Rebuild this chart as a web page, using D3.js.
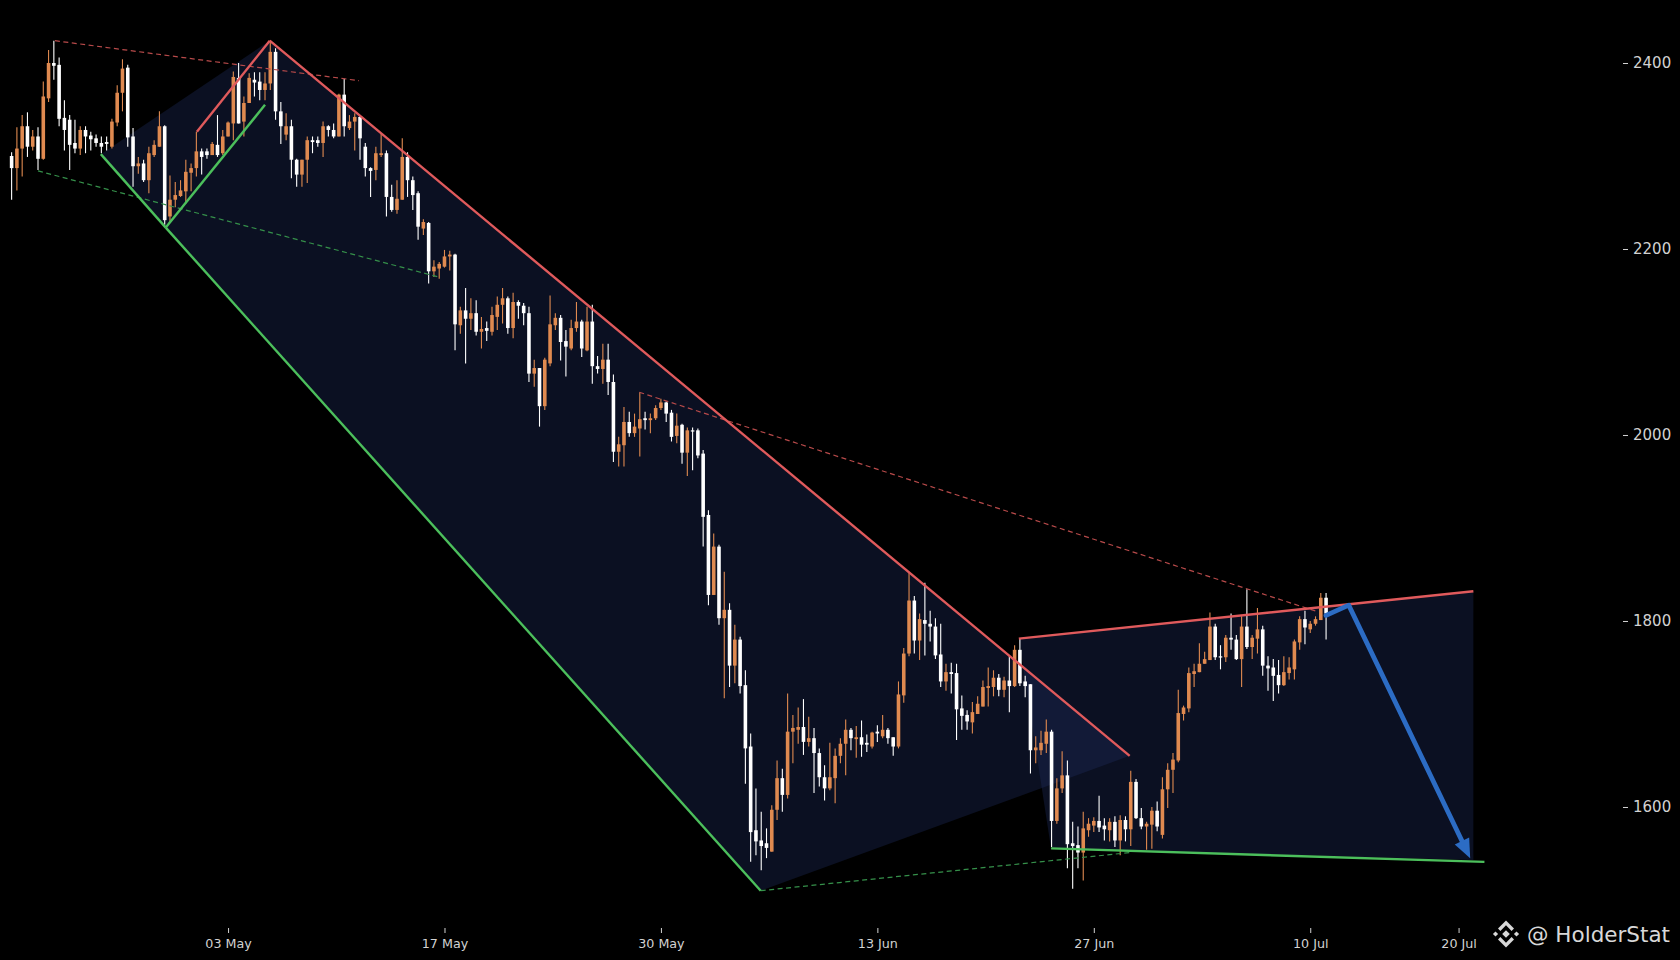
<!DOCTYPE html>
<html>
<head>
<meta charset="utf-8">
<script src="https://cdn.jsdelivr.net/npm/d3@7"></script>
<style>
  html, body { margin: 0; padding: 0; background: #000; }
  svg { display: block; }
  .tick text { font-family: "DejaVu Sans", sans-serif; fill: #d2d2d2; }
  .tick line { stroke: #d2d2d2; }
</style>
</head>
<body>
<svg id="chart" width="1680" height="960"></svg>
<script>
// candle data, one entry per bar
const opens = [2300,2287,2308,2332,2310,2321,2297,2362,2400,2398,2341,2339,2314,2308,2328,2322,2319,2314,2315,2310,
  2336,2368,2395,2321,2289,2292,2274,2301,2310,2332,2235,2253,2257,2262,2282,2287,2305,2305,2301,2312,
  2303,2321,2335,2384,2337,2357,2382,2380,2371,2378,2412,2348,2323,2332,2296,2280,2296,2317,2317,2314,
  2332,2328,2321,2366,2330,2337,2342,2310,2287,2285,2301,2303,2256,2242,2253,2299,2274,2260,2222,2228,
  2176,2179,2181,2192,2194,2118,2134,2125,2131,2111,2115,2111,2127,2140,2147,2115,2143,2139,2131,2066,
  2072,2031,2077,2118,2126,2101,2093,2115,2122,2091,2122,2074,2071,2081,2057,1982,1989,2014,2002,2007,
  2018,2016,2018,2029,2035,2024,1999,2011,1981,2005,2005,1980,1914,1828,1880,1803,1812,1752,1780,1731,
  1665,1575,1564,1561,1552,1597,1631,1613,1681,1683,1686,1670,1674,1658,1632,1620,1631,1655,1668,1683,
  1673,1675,1669,1665,1681,1676,1683,1675,1665,1720,1765,1822,1779,1801,1797,1794,1764,1735,1745,1744,
  1706,1699,1691,1700,1708,1728,1729,1739,1726,1736,1730,1769,1735,1732,1661,1661,1668,1681,1585,1620,
  1634,1561,1559,1551,1575,1580,1585,1580,1575,1584,1564,1586,1576,1627,1588,1579,1581,1596,1570,1619,
  1640,1650,1700,1706,1743,1745,1754,1758,1794,1762,1761,1782,1780,1759,1794,1772,1781,1791,1752,1750,
  1742,1731,1744,1748,1777,1802,1791,1797,1801,1825];
const highs = [2304,2331,2344,2347,2328,2331,2380,2414,2424,2406,2360,2344,2339,2332,2332,2326,2323,2321,2321,2340,
  2376,2404,2398,2330,2299,2296,2310,2317,2348,2333,2279,2272,2274,2296,2292,2326,2308,2308,2315,2344,
  2328,2337,2391,2400,2364,2389,2390,2390,2390,2424,2416,2358,2346,2339,2297,2296,2321,2321,2321,2337,
  2333,2335,2367,2383,2344,2346,2344,2314,2288,2310,2324,2306,2269,2274,2319,2304,2278,2262,2232,2229,
  2188,2186,2199,2198,2195,2138,2158,2147,2145,2127,2122,2138,2149,2158,2149,2153,2145,2142,2138,2081,
  2072,2083,2150,2131,2129,2113,2124,2143,2124,2138,2140,2085,2098,2098,2065,1998,2030,2025,2023,2046,
  2025,2023,2032,2039,2036,2027,2023,2012,2008,2008,2007,1984,1919,1894,1882,1853,1819,1796,1783,1747,
  1679,1620,1595,1577,1602,1650,1641,1722,1699,1707,1716,1697,1685,1663,1645,1669,1663,1674,1694,1685,
  1687,1693,1678,1681,1688,1699,1685,1675,1735,1771,1853,1827,1808,1841,1811,1803,1797,1754,1755,1754,
  1720,1704,1713,1719,1736,1750,1747,1743,1740,1762,1774,1781,1741,1732,1676,1682,1694,1683,1631,1660,
  1650,1584,1579,1595,1588,1589,1612,1588,1588,1590,1591,1590,1639,1630,1599,1584,1600,1606,1632,1647,
  1658,1726,1709,1750,1754,1776,1767,1809,1797,1774,1785,1808,1785,1805,1834,1785,1814,1795,1762,1759,
  1758,1762,1761,1780,1805,1811,1800,1805,1830,1830];
const lows = [2253,2263,2278,2299,2306,2285,2296,2358,2382,2332,2306,2285,2303,2301,2303,2306,2310,2303,2306,2308,
  2332,2348,2310,2267,2281,2272,2260,2299,2310,2226,2229,2245,2256,2249,2262,2278,2280,2297,2301,2299,
  2301,2321,2317,2335,2321,2357,2364,2360,2360,2371,2339,2313,2317,2276,2267,2267,2271,2303,2310,2299,
  2321,2319,2321,2321,2328,2306,2296,2278,2256,2274,2299,2235,2240,2238,2253,2256,2242,2210,2215,2163,
  2170,2168,2180,2177,2091,2109,2077,2113,2107,2093,2101,2107,2113,2120,2109,2104,2125,2118,2057,2052,
  2009,2027,2074,2113,2080,2063,2091,2111,2084,2090,2055,2066,2055,2043,1971,1966,1966,1998,1998,1977,
  2006,2002,2016,2027,2014,1993,1991,1969,1956,1962,1975,1880,1817,1828,1796,1717,1729,1733,1722,1625,
  1541,1548,1532,1545,1552,1586,1595,1609,1647,1668,1656,1665,1615,1622,1607,1618,1604,1647,1634,1661,
  1653,1654,1659,1663,1670,1674,1668,1655,1663,1712,1762,1765,1758,1763,1778,1759,1729,1725,1722,1672,
  1683,1683,1679,1700,1708,1708,1719,1719,1718,1702,1729,1730,1718,1636,1647,1656,1658,1557,1582,1615,
  1534,1512,1534,1521,1568,1573,1573,1564,1563,1557,1548,1563,1558,1587,1576,1554,1555,1574,1566,1599,
  1615,1648,1693,1702,1729,1745,1754,1758,1758,1748,1756,1769,1758,1729,1770,1759,1765,1741,1725,1714,
  1722,1730,1737,1737,1769,1775,1787,1795,1801,1780];
const closes = [2287,2308,2332,2310,2321,2297,2364,2400,2397,2340,2328,2312,2308,2328,2321,2318,2314,2310,2313,2337,
  2368,2394,2320,2289,2292,2274,2303,2312,2332,2231,2253,2258,2263,2283,2287,2305,2299,2301,2313,2301,
  2321,2336,2385,2335,2357,2384,2379,2371,2378,2412,2348,2332,2332,2296,2280,2296,2317,2315,2314,2332,
  2328,2321,2366,2332,2337,2342,2319,2287,2284,2303,2303,2256,2242,2254,2299,2274,2258,2224,2229,2176,
  2181,2184,2192,2194,2119,2134,2125,2131,2111,2114,2112,2129,2140,2147,2115,2143,2139,2131,2066,2072,
  2031,2081,2119,2126,2100,2095,2115,2122,2093,2122,2074,2071,2081,2057,1982,1990,2014,2002,2009,2017,
  2016,2018,2029,2035,2023,1998,2010,1981,2005,2004,1978,1912,1828,1880,1803,1812,1752,1780,1730,1663,
  1573,1563,1558,1556,1597,1631,1613,1681,1685,1686,1670,1674,1658,1632,1620,1632,1655,1668,1683,1674,
  1675,1667,1667,1680,1679,1683,1674,1665,1721,1765,1822,1779,1802,1797,1794,1763,1735,1745,1743,1705,
  1698,1692,1702,1711,1729,1730,1739,1726,1736,1730,1769,1733,1730,1661,1664,1669,1681,1585,1620,1634,
  1560,1558,1551,1577,1582,1585,1578,1576,1584,1564,1586,1576,1627,1588,1579,1582,1596,1579,1619,1640,
  1651,1701,1707,1744,1746,1754,1759,1794,1761,1761,1782,1780,1759,1794,1772,1782,1791,1752,1749,1741,
  1731,1745,1750,1778,1802,1793,1797,1802,1825,1808];

// axis ticks: bar position of each date label
const xTickBars = [41, 82, 123, 164, 205, 246, 274.1];
const xTickLabels = ["03 May", "17 May", "30 May", "13 Jun", "27 Jun", "10 Jul", "20 Jul"];
const yTickValues = [1600, 1800, 2000, 2200, 2400];

// pattern drawings as [bar, price] points
const wedgeFill = [[16.9, 2302], [48.9, 2424], [211.8, 1655], [141.9, 1510], [29.2, 2223]];
const triangleFill = [[190.8, 1781], [276.9, 1832], [276.9, 1543], [196.9, 1555.5]];
const redSolid = [
  [[35.1, 2326], [48.9, 2424]],
  [[48.9, 2424], [211.8, 1655]],
  [[190.8, 1781], [276.9, 1832]]
];
const greenSolid = [
  [[16.9, 2302], [29.2, 2223]],
  [[29.2, 2223], [141.9, 1510]],
  [[29.2, 2223], [48, 2355]],
  [[196.9, 1555.5], [279, 1541]]
];
const redDashed = [
  [[8.2, 2424], [65.8, 2381]],
  [[118.9, 2046], [247.4, 1810]]
];
const greenDashed = [
  [[5, 2284], [80.8, 2170]],
  [[141.9, 1510], [211.8, 1551]]
];
const projection = [[249, 1806], [253.3, 1817], [276.3, 1545]];

const svg = d3.select("svg#chart");
const width = +svg.attr("width");
const height = +svg.attr("height");
const plot = {left: 0, right: 1495, top: 10, bottom: 925};

const candles = opens.map((o, i) => ({i: i, o: o, h: highs[i], l: lows[i], c: closes[i]}));

const x = d3.scaleLinear().domain([-2.2, 281]).range([plot.left, plot.right]);
const y = d3.scaleLinear().domain([1473.1, 2457]).range([plot.bottom, plot.top]);
const step = x(1) - x(0);
const bodyW = step * 0.68;

svg.append("rect").attr("width", width).attr("height", height).attr("fill", "#000");

const line = d3.line().x(d => x(d[0])).y(d => y(d[1]));

// shaded pattern areas
const fills = svg.append("g").attr("class", "fills");
fills.selectAll("path").data([wedgeFill, triangleFill])
  .join("path")
  .attr("d", d => line(d) + "Z")
  .attr("fill", "rgb(30,45,95)")
  .attr("fill-opacity", 0.36)
  .attr("stroke", "none");

// candles
const up = "#e08a50";
const down = "#ffffff";
const cg = svg.append("g").attr("class", "candles");
cg.selectAll("line.wick").data(candles)
  .join("line").attr("class", "wick")
  .attr("x1", d => x(d.i)).attr("x2", d => x(d.i))
  .attr("y1", d => y(d.h)).attr("y2", d => y(d.l))
  .attr("stroke", d => d.c >= d.o ? up : down)
  .attr("stroke-width", 1.1);
cg.selectAll("rect.body").data(candles)
  .join("rect").attr("class", "body")
  .attr("x", d => x(d.i) - bodyW / 2)
  .attr("width", bodyW)
  .attr("y", d => y(Math.max(d.o, d.c)))
  .attr("height", d => Math.max(1.2, Math.abs(y(d.o) - y(d.c))))
  .attr("fill", d => d.c >= d.o ? up : down);

// trend lines
const lines = svg.append("g").attr("class", "lines");
lines.selectAll("path.red-dash").data(redDashed)
  .join("path").attr("class", "red-dash")
  .attr("d", line).attr("fill", "none")
  .attr("stroke", "#b84a4a").attr("stroke-width", 1.2).attr("stroke-dasharray", "5,3.5");
lines.selectAll("path.green-dash").data(greenDashed)
  .join("path").attr("class", "green-dash")
  .attr("d", line).attr("fill", "none")
  .attr("stroke", "#35904a").attr("stroke-width", 1.2).attr("stroke-dasharray", "5,3.5");
lines.selectAll("path.red").data(redSolid)
  .join("path").attr("class", "red")
  .attr("d", line).attr("fill", "none")
  .attr("stroke", "#e05a5c").attr("stroke-width", 2.4);
lines.selectAll("path.green").data(greenSolid)
  .join("path").attr("class", "green")
  .attr("d", line).attr("fill", "none")
  .attr("stroke", "#4cbf5c").attr("stroke-width", 2.4);

// projected move arrow
const pts = projection.map(d => [x(d[0]), y(d[1])]);
const tip = pts[pts.length - 1];
const prev = pts[pts.length - 2];
const len = Math.hypot(tip[0] - prev[0], tip[1] - prev[1]);
const ux = (tip[0] - prev[0]) / len, uy = (tip[1] - prev[1]) / len;
const headL = 19, headW = 8;
const base = [tip[0] - ux * headL, tip[1] - uy * headL];
const shaft = pts.slice(0, -1).concat([[base[0] + ux * 2, base[1] + uy * 2]]);
lines.append("path")
  .attr("d", d3.line()(shaft))
  .attr("fill", "none")
  .attr("stroke", "#2c6cc4").attr("stroke-width", 4.8)
  .attr("stroke-linejoin", "round").attr("stroke-linecap", "round");
lines.append("path")
  .attr("d", d3.line()([tip, [base[0] - uy * headW, base[1] + ux * headW], [base[0] + uy * headW, base[1] - ux * headW]]) + "Z")
  .attr("fill", "#2c6cc4");

// axes
const xAxis = d3.axisBottom(x)
  .tickValues(xTickBars)
  .tickFormat((d, i) => xTickLabels[i])
  .tickSize(5).tickPadding(6);
svg.append("g").attr("class", "x-axis")
  .attr("transform", `translate(0,${plot.bottom + 3})`)
  .call(xAxis)
  .call(g => g.select(".domain").remove())
  .call(g => g.selectAll("text").attr("font-size", "12.7px"));

const yAxis = d3.axisRight(y)
  .tickValues(yTickValues)
  .tickFormat(d3.format("d"))
  .tickSize(5).tickPadding(5);
svg.append("g").attr("class", "y-axis")
  .attr("transform", "translate(1623,0)")
  .call(yAxis)
  .call(g => g.select(".domain").remove())
  .call(g => g.selectAll("text").attr("font-size", "15px"));

// watermark
const wm = svg.append("g").attr("transform", "translate(1506,934)").attr("fill", "#d8d8d8");
const logo = [
  [[0, -3.8], [3.8, 0], [0, 3.8], [-3.8, 0]],
  [[-10.5, -2.6], [-7.9, 0], [-10.5, 2.6], [-13.1, 0]],
  [[10.5, -2.6], [13.1, 0], [10.5, 2.6], [7.9, 0]],
  [[0, -13.5], [8, -5.5], [5.6, -3.1], [0, -8.7], [-5.6, -3.1], [-8, -5.5]],
  [[0, 13.5], [8, 5.5], [5.6, 3.1], [0, 8.7], [-5.6, 3.1], [-8, 5.5]]
];
wm.selectAll("path").data(logo).join("path").attr("d", d => d3.line()(d) + "Z");
svg.append("text")
  .attr("x", 1527).attr("y", 942)
  .attr("font-family", "DejaVu Sans, sans-serif")
  .attr("font-size", "21.5px")
  .attr("fill", "#d8d8d8")
  .text("@ HolderStat");
</script>
</body>
</html>
